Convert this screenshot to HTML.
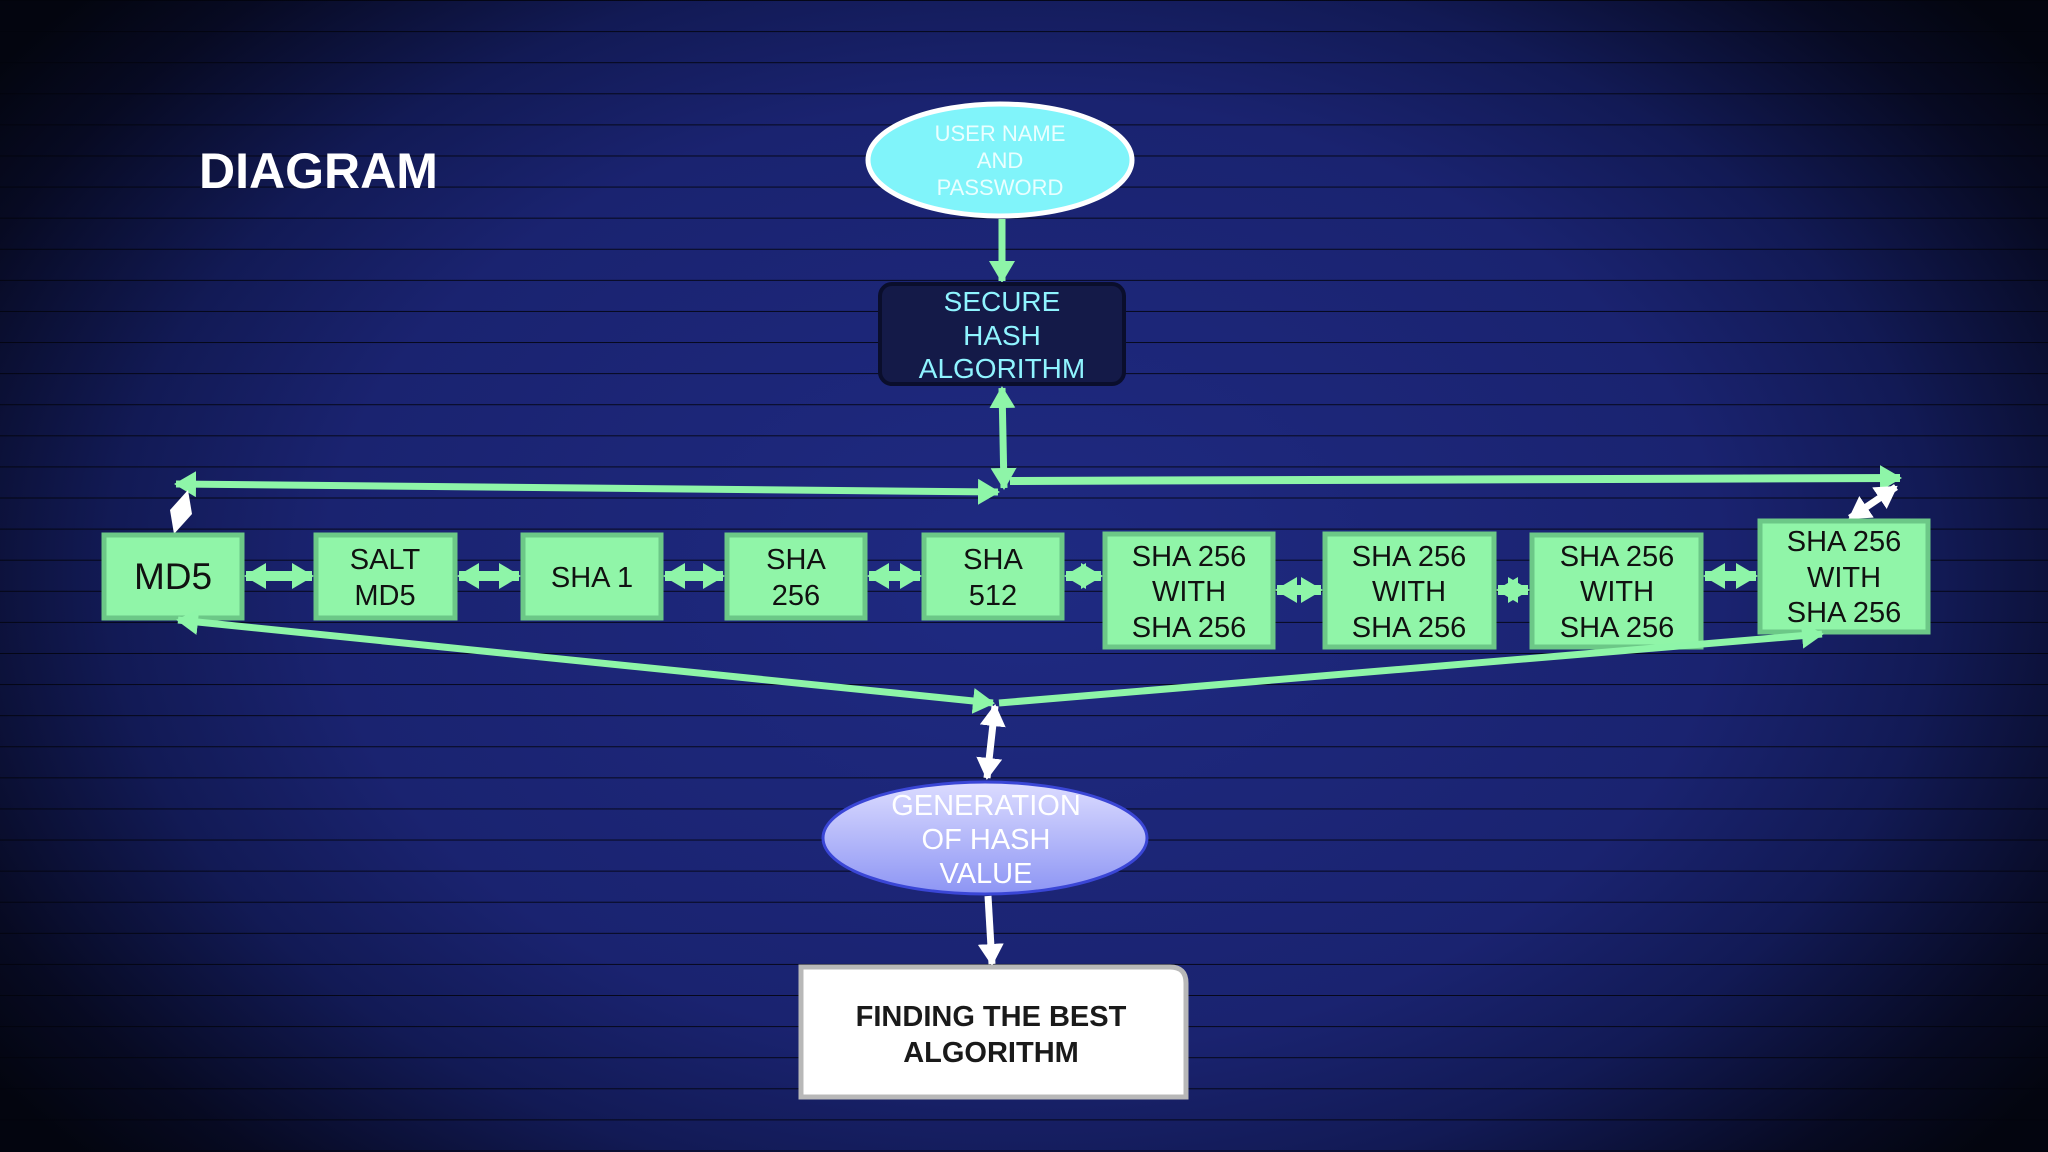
<!DOCTYPE html>
<html><head><meta charset="utf-8"><style>
html,body{margin:0;padding:0;}
body{width:2048px;height:1152px;overflow:hidden;position:relative;background:#05081a;}
.bg{position:absolute;inset:0;background:radial-gradient(ellipse 62% 75% at 50% 50%,#1f2a82 0%,#1a2370 55%,#121a55 72%,#070a22 90%,#03050f 100%);}
.st{position:absolute;inset:0;background:repeating-linear-gradient(to bottom,transparent 0px,transparent 30px,rgba(2,3,12,0.85) 30px,rgba(2,3,12,0.85) 34px);background-size:100% 31.1px;background-position:0 1px;}
svg{position:absolute;left:0;top:0;}
text{font-family:"Liberation Sans",sans-serif;}
</style></head><body>
<div class="bg"></div><div class="st"></div>
<svg width="2048" height="1152" viewBox="0 0 2048 1152">
<defs>
<marker id="g" markerUnits="userSpaceOnUse" markerWidth="26" markerHeight="26" refX="20" refY="13" orient="auto-start-reverse"><path d="M0,0 L22,13 L0,26 Z" fill="#8ef5a8"/></marker>
<marker id="w" markerUnits="userSpaceOnUse" markerWidth="26" markerHeight="26" refX="20" refY="13" orient="auto-start-reverse"><path d="M0,0 L22,13 L0,26 Z" fill="#ffffff"/></marker>
<linearGradient id="lv" x1="0" y1="0" x2="0" y2="1"><stop offset="0" stop-color="#dcdcff"/><stop offset="1" stop-color="#8d95f4"/></linearGradient>
</defs>
<text x="199" y="188" font-family="Liberation Sans Narrow,Liberation Sans,sans-serif" font-weight="bold" font-size="50" fill="#ffffff" style="font-family:'Liberation Sans Narrow','Liberation Sans',sans-serif">DIAGRAM</text>

<ellipse cx="1000" cy="160" rx="132" ry="56" fill="#80f4fa" stroke="#ffffff" stroke-width="5"/>
<g fill="#eaffff" font-size="22" text-anchor="middle"><text x="1000" y="141">USER NAME</text><text x="1000" y="168">AND</text><text x="1000" y="195">PASSWORD</text></g>
<line x1="1002" y1="219" x2="1002" y2="281" stroke="#8ef5a8" stroke-width="7" marker-end="url(#g)"/>

<rect x="880" y="284" width="244" height="100" rx="12" fill="#141a48" stroke="#0a0e2c" stroke-width="4"/>
<g fill="#8ff4ff" font-size="28" text-anchor="middle"><text x="1002" y="311">SECURE</text><text x="1002" y="345">HASH</text><text x="1002" y="378">ALGORITHM</text></g>
<line x1="1002" y1="388" x2="1004" y2="488" stroke="#8ef5a8" stroke-width="7" marker-start="url(#g)" marker-end="url(#g)"/>

<line x1="176" y1="484" x2="998" y2="492" stroke="#8ef5a8" stroke-width="7" marker-start="url(#g)" marker-end="url(#g)"/>
<line x1="1010" y1="481" x2="1900" y2="478" stroke="#8ef5a8" stroke-width="8" marker-end="url(#g)"/>
<polygon points="174,534 170,510 188,490 192,514" fill="#ffffff"/>
<line x1="1850" y1="518" x2="1896" y2="487" stroke="#ffffff" stroke-width="7" marker-start="url(#w)" marker-end="url(#w)"/>

<g fill="#90f5a8" stroke="#6cc887" stroke-width="5">
<rect x="104" y="535" width="138" height="83"/>
<rect x="316" y="535" width="139" height="83"/>
<rect x="523" y="535" width="138" height="83"/>
<rect x="727" y="535" width="138" height="83"/>
<rect x="924" y="535" width="138" height="83"/>
<rect x="1105" y="534" width="168" height="113"/>
<rect x="1325" y="534" width="169" height="113"/>
<rect x="1532" y="535" width="169" height="112"/>
<rect x="1760" y="521" width="168" height="111"/>
</g>
<g fill="#111" font-size="29" text-anchor="middle">
<text x="173" y="589" font-size="37">MD5</text>
<text x="385" y="569">SALT</text><text x="385" y="605">MD5</text>
<text x="592" y="587">SHA 1</text>
<text x="796" y="569">SHA</text><text x="796" y="605">256</text>
<text x="993" y="569">SHA</text><text x="993" y="605">512</text>
<text x="1189" y="566">SHA 256</text><text x="1189" y="601">WITH</text><text x="1189" y="637">SHA 256</text>
<text x="1409" y="566">SHA 256</text><text x="1409" y="601">WITH</text><text x="1409" y="637">SHA 256</text>
<text x="1617" y="566">SHA 256</text><text x="1617" y="601">WITH</text><text x="1617" y="637">SHA 256</text>
<text x="1844" y="551">SHA 256</text><text x="1844" y="587">WITH</text><text x="1844" y="622">SHA 256</text>
</g>
<g stroke="#8ef5a8" stroke-width="10">
<line x1="246" y1="576" x2="312" y2="576" marker-start="url(#g)" marker-end="url(#g)"/>
<line x1="459" y1="576" x2="519" y2="576" marker-start="url(#g)" marker-end="url(#g)"/>
<line x1="665" y1="576" x2="723" y2="576" marker-start="url(#g)" marker-end="url(#g)"/>
<line x1="869" y1="576" x2="920" y2="576" marker-start="url(#g)" marker-end="url(#g)"/>
<line x1="1066" y1="576" x2="1101" y2="576" marker-start="url(#g)" marker-end="url(#g)"/>
<line x1="1277" y1="590" x2="1321" y2="590" marker-start="url(#g)" marker-end="url(#g)"/>
<line x1="1498" y1="590" x2="1528" y2="590" marker-start="url(#g)" marker-end="url(#g)"/>
<line x1="1705" y1="576" x2="1756" y2="576" marker-start="url(#g)" marker-end="url(#g)"/>
</g>

<line x1="178" y1="620" x2="993" y2="703" stroke="#8ef5a8" stroke-width="7" marker-start="url(#g)" marker-end="url(#g)"/>
<line x1="1822" y1="634" x2="999" y2="703" stroke="#8ef5a8" stroke-width="7" marker-start="url(#g)"/>
<line x1="995" y1="706" x2="987" y2="778" stroke="#ffffff" stroke-width="7" marker-start="url(#w)" marker-end="url(#w)"/>

<ellipse cx="985" cy="838" rx="162" ry="56" fill="url(#lv)" stroke="#3a46d6" stroke-width="3"/>
<g fill="#ffffff" font-size="29" text-anchor="middle"><text x="986" y="815">GENERATION</text><text x="986" y="849">OF HASH</text><text x="986" y="883">VALUE</text></g>
<line x1="988" y1="896" x2="992" y2="964" stroke="#ffffff" stroke-width="7" marker-end="url(#w)"/>

<path d="M801,967 H1170 Q1186,967 1186,983 V1097 H801 Z" fill="#ffffff" stroke="#b8b8b8" stroke-width="5"/>
<g fill="#1a1a1a" font-size="29" font-weight="bold" text-anchor="middle"><text x="991" y="1026">FINDING THE BEST</text><text x="991" y="1062">ALGORITHM</text></g>
</svg>
</body></html>
